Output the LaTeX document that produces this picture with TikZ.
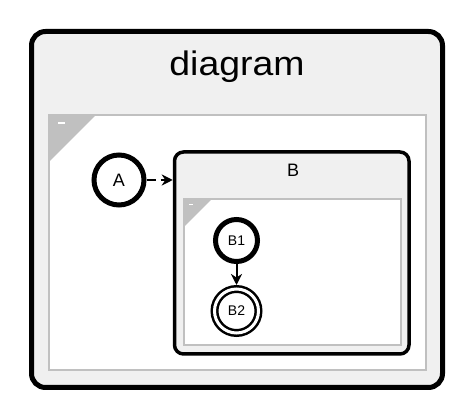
\documentclass[tikz,border=0pt]{standalone}
\usepackage{fontspec}
\setmainfont{Liberation Sans}
\usetikzlibrary{arrows.meta}
\definecolor{panel}{HTML}{F0F0F0}
\definecolor{regline}{HTML}{C0C0C0}
\begin{document}
\begin{tikzpicture}[x=1pt,y=-1pt,
  container/.style={draw=black, fill=panel, inner sep=0pt},
  region/.style={draw=regline, fill=white, inner sep=0pt},
  regtri/.style={fill=regline},
  regdash/.style={draw=white, line width=1.5pt},
  state/.style={circle, draw=black, fill=white, inner sep=0pt},
  lbl/.style={font=\fontsize{18}{21}\selectfont},
  smalllbl/.style={font=\fontsize{14}{17}\selectfont},
  trans/.style={line width=2pt, -{Stealth[length=11pt,width=11pt,inset=3.5pt]}}
]
\useasboundingbox (0,0) rectangle (474,419);
\fill[white] (0,0) rectangle (474,419);

% outer diagram container
\node[container, line width=5pt, rounded corners=14pt,
      minimum width=411pt, minimum height=356pt] (diagram) at (237,209.5) {};
\node[anchor=base, font=\fontsize{34}{40}\selectfont, xscale=1.1] (title) at (237,76) {diagram};

% region of diagram
\node[region, line width=2pt, minimum width=377pt, minimum height=255pt] (reg1) at (237.5,242.5) {};
\fill[regtri] (50,116) -- (95,116) -- (50,161) -- cycle;
\draw[regdash] (58,123) -- (65,123);

% state A
\node[state, line width=5pt, minimum size=50pt, lbl] (A) at (119,180) {A};

% composite state B
\node[container, line width=3.5pt, rounded corners=9pt,
      minimum width=234.5pt, minimum height=202pt] (B) at (291.75,253) {};
\node[lbl] (Blabel) at (293,170) {B};
\node[region, line width=1.5pt, minimum width=217pt, minimum height=146pt] (reg2) at (292.5,272) {};
\fill[regtri] (185,200) -- (211,200) -- (185,226) -- cycle;
\draw[regdash, line width=1pt] (189,205) -- (193,205);

% substates
\node[state, line width=5pt, minimum size=42pt, smalllbl] (B1) at (236.5,240.5) {B1};
\node[state, line width=2.5pt, double=white, double distance=3pt, outer sep=4pt,
      minimum size=44pt, smalllbl] (B2) at (236.5,311) {B2};

% transitions
\draw[trans, line width=2.5pt, dash pattern=on 9pt off 5pt] (A.east) -- (A.east -| B.west);
\draw[trans] (B1) -- (B2);
\end{tikzpicture}
\end{document}
